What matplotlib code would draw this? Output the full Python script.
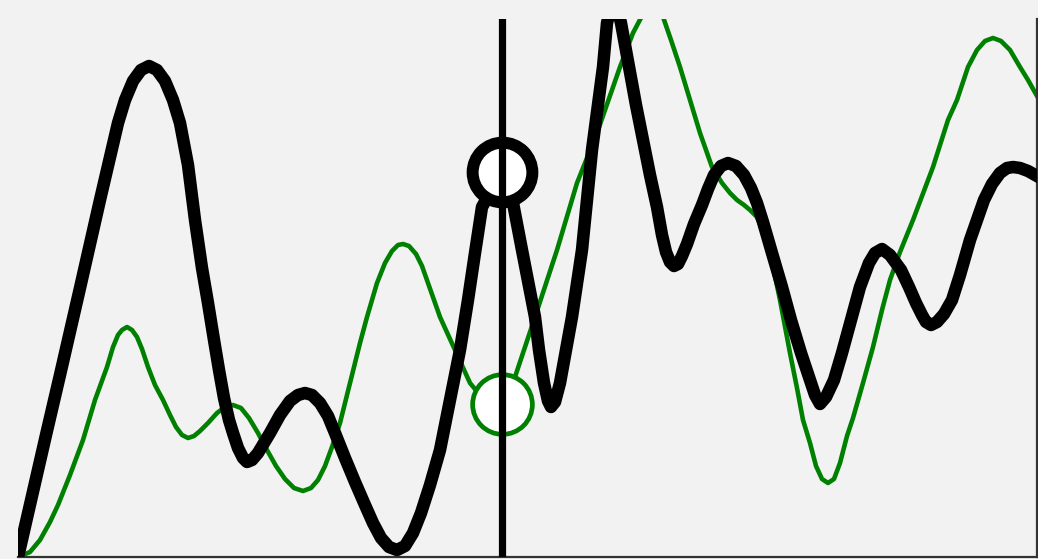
import matplotlib
matplotlib.use('Agg')
import matplotlib.pyplot as plt

# values (x along the axis, y height above the baseline)
black_x = [0, 14, 28, 42, 62, 82, 100, 107, 115, 123, 131, 139, 147, 155, 162, 170,
           177, 184, 190, 196, 201, 206, 211, 215, 220, 225, 229, 234, 240, 246, 252,
           262, 272, 280, 287, 294, 302, 310, 317, 327, 337, 347, 355, 363, 371, 379,
           387, 395, 403, 412, 422, 432, 442, 450, 457, 464, 484, 495, 504, 517, 521,
           526, 530, 533, 537, 542, 548, 554, 564, 574, 585, 589, 592, 596, 600, 603,
           611, 618, 625, 632, 639, 644, 648, 652, 656, 660, 664, 669, 676, 684, 690,
           696, 703, 710, 718, 726, 733, 739, 745, 754, 764, 773, 783, 792, 797, 802,
           808, 816, 824, 833, 842, 851, 857, 864, 872, 883, 891, 898, 904, 908, 913,
           919, 926, 934, 942, 952, 966, 974, 982, 989, 995, 1002, 1010, 1019]
black_y = [0, 61, 122, 182, 269, 357, 434, 457, 476, 487, 491, 487, 476, 457, 434, 392,
           337, 289, 254, 217, 187, 159, 137, 124, 109, 99, 95, 97, 104, 114, 124,
           142, 156, 162, 164, 162, 154, 141, 124, 99, 75, 52, 34, 19, 10, 7,
           11, 24, 44, 72, 107, 157, 207, 257, 304, 350, 385, 354, 307, 240, 207,
           174, 156, 150, 155, 174, 207, 240, 307, 407, 490, 534, 546, 552, 546, 534,
           490, 452, 417, 382, 350, 322, 305, 295, 291, 293, 301, 313, 333, 352, 368,
           382, 391, 394, 391, 382, 369, 354, 335, 304, 270, 237, 204, 177, 162, 153,
           160, 177, 204, 237, 270, 294, 304, 308, 302, 287, 270, 254, 242, 235, 232,
           235, 243, 257, 282, 317, 357, 373, 384, 389, 390, 389, 386, 381]

green_x = [0, 12, 22, 32, 40, 52, 65, 77, 89, 95, 100, 104, 109, 114, 119, 124,
           130, 137, 145, 152, 158, 164, 170, 176, 182, 190, 199, 207, 215, 223, 231,
           240, 249, 258, 267, 276, 285, 293, 300, 307, 314, 322, 332, 342, 349, 359,
           367, 374, 380, 385, 391, 398, 404, 410, 422, 437, 452, 466, 484, 497, 517,
           539, 559, 579, 602, 615, 625, 634, 644, 653, 662, 672, 682, 694, 704, 712,
           719, 726, 732, 739, 747, 754, 762, 772, 779, 785, 792, 798, 804, 810, 816,
           822, 829, 835, 845, 855, 864, 872, 882, 895, 915, 930, 939, 950, 959, 967,
           975, 983, 992, 1002, 1010, 1019]
green_y = [0, 5, 17, 35, 52, 82, 117, 157, 190, 210, 222, 227, 230, 227, 220, 208,
           190, 172, 157, 142, 130, 122, 119, 121, 126, 134, 144, 150, 152, 149, 139,
           124, 107, 91, 78, 69, 66, 69, 77, 91, 110, 134, 174, 214, 240, 274,
           294, 306, 312, 313, 311, 303, 291, 274, 240, 207, 174, 157, 153, 180, 240,
           307, 374, 424, 490, 524, 543, 552, 543, 517, 490, 457, 424, 390, 374, 364,
           357, 352, 347, 340, 322, 295, 257, 204, 169, 137, 114, 91, 78, 74, 78,
           94, 121, 139, 174, 210, 247, 277, 305, 337, 390, 437, 457, 490, 507, 516,
           519, 516, 507, 490, 477, 461]

cursor_x = 484
black_at_cursor = 385
green_at_cursor = 153

bg = '#f2f2f2'
fig = plt.figure(figsize=(10.38, 5.59), dpi=100, facecolor=bg)
ax = fig.add_axes([18 / 1038, 2 / 559, 1019 / 1038, 538 / 559])
ax.set_facecolor(bg)

ax.plot(green_x, green_y, color='green', lw=3.3, solid_joinstyle='round', zorder=2)
ax.plot(black_x, black_y, color='black', lw=9, solid_joinstyle='round', zorder=3)
ax.plot([cursor_x], [green_at_cursor], 'o', ms=43, mfc='white', mec='green', mew=3.4, zorder=4)
ax.plot([cursor_x], [black_at_cursor], 'o', ms=43, mfc='white', mec='black', mew=8.6, zorder=4)
ax.axvline(cursor_x, color='black', lw=5.2, zorder=5)

ax.set_xlim(0, 1019)
ax.set_ylim(0, 538)
ax.set_xticks([])
ax.set_yticks([])
for side in ['left', 'top']:
    ax.spines[side].set_visible(False)
for side in ['bottom', 'right']:
    ax.spines[side].set_color('#333333')
    ax.spines[side].set_linewidth(1.6)

fig.savefig('out.png', dpi=100, facecolor=bg)
